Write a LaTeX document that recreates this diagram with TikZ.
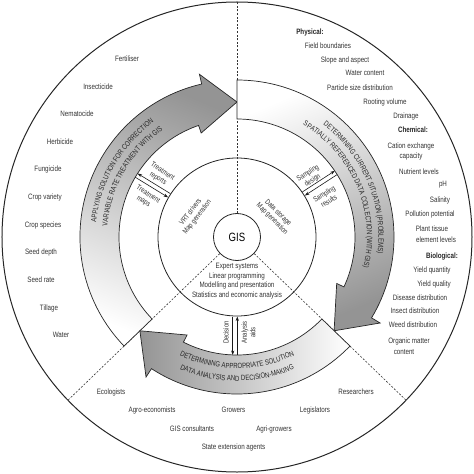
\documentclass[tikz,border=0pt]{standalone}
\usepackage{fontspec}
\setmainfont[FakeStretch=0.8]{Liberation Sans}
\usetikzlibrary{arrows.meta,decorations.text}

\newcommand{\bandfont}{\fontsize{7.5}{9}\selectfont}

\tikzset{
  ring/.style={draw=black!85, line width=0.8pt},
  sector/.style={draw=black!80, line width=0.6pt, dash pattern=on 2pt off 1.6pt},
  band/.style={draw=black!85, line width=0.7pt},
  flow/.style={draw=black!90, line width=0.6pt, -{Stealth[length=4.5pt,width=3.2pt]}},
  listitem/.style={font=\fontsize{7.8}{9}\selectfont, text=black!80, inner sep=0pt},
  listhead/.style={font=\fontsize{7.8}{9}\selectfont\bfseries, text=black!85, inner sep=0pt},
  smalllab/.style={font=\fontsize{7.4}{8.4}\selectfont, text=black!80, align=center, inner sep=0pt},
  bandtext/.style={decorate, decoration={text along path, text align=center, text color=black!85}},
}

\begin{document}
\begin{tikzpicture}[x=1pt, y=1pt]
\useasboundingbox (-237,-237) rectangle (237,237);

% circles
\draw[ring, line width=1pt] (0,0) circle[radius=235];
\draw[ring] (0,0) circle[radius=79];
\node[circle, draw=black!85, line width=0.8pt, minimum size=47pt, inner sep=0pt,
      font=\fontsize{12}{14}\selectfont] (gis) at (0,0) {GIS};

% sector borders
\coordinate (rimN) at (90:235);
\coordinate (rimSW) at (224:235);
\coordinate (rimSE) at (316:235);
\draw[sector] (gis.90) -- (rimN);
\draw[sector] (gis.224) -- (rimSW);
\draw[sector] (gis.316) -- (rimSE);

% applying solution (left arrow)
\shade[band, top color=black!42, bottom color=white, shading angle=-23]
  (224:118) arc[start angle=224, end angle=109, radius=118] -- (109:110) -- (90:135)
  -- (103:167) -- (103:157) arc[start angle=103, end angle=224, radius=157] -- cycle;
\path[bandtext, decoration={text={|\bandfont|APPLYING SOLUTION FOR CORRECTION}}]
  (190:141.5) arc[start angle=190, end angle=110, radius=141.5];
\path[bandtext, decoration={text={|\bandfont|VARIABLE RATE TREATMENT WITH GIS}}]
  (192:130) arc[start angle=192, end angle=108, radius=130];

% determining current situation (right arrow)
\shade[band, top color=black!42, bottom color=white, shading angle=-157]
  (90:118) -- (90:157) arc[start angle=90, end angle=-31, radius=157] -- (-31:167)
  -- (-44:135) -- (-25:110) -- (-25:118) arc[start angle=-25, end angle=90, radius=118] -- cycle;
\path[bandtext, decoration={text={|\bandfont|DETERMINING CURRENT SITUATION (PROBLEMS)}}]
  (75:141.5) arc[start angle=75, end angle=-29, radius=141.5];
\path[bandtext, decoration={text={|\bandfont|SPATIALLY REFERENCED DATA COLLECTION (WITH GIS)}}]
  (83:130) arc[start angle=83, end angle=-37, radius=130];

% determining appropriate solution (bottom arrow)
\shade[band, top color=black!42, bottom color=white, shading angle=90]
  (316:118) -- (316:157) arc[start angle=316, end angle=237, radius=157] -- (237:167)
  -- (224:135) -- (243:110) -- (243:118) arc[start angle=243, end angle=316, radius=118] -- cycle;
\path[bandtext, decoration={text={|\bandfont|DETERMINING APPROPRIATE SOLUTION}}]
  (230:131.5) arc[start angle=230, end angle=310, radius=131.5];
\path[bandtext, decoration={text={|\bandfont|DATA ANALYSIS AND DECISION-MAKING}}]
  (232:144) arc[start angle=232, end angle=308, radius=144];

% exchange arrows
\coordinate (repIn) at ([shift={(58.5:2.2)}]148.5:79.5);
\coordinate (repOut) at ([shift={(58.5:2.2)}]148.5:118);
\coordinate (mapIn) at ([shift={(238.5:2.2)}]148.5:79.5);
\coordinate (mapOut) at ([shift={(238.5:2.2)}]148.5:118);
\draw[flow] (repIn) -- (repOut);
\draw[flow] (mapOut) -- (mapIn);
\coordinate (desIn) at ([shift={(123:2.2)}]33:79.5);
\coordinate (desOut) at ([shift={(123:2.2)}]33:118);
\coordinate (resIn) at ([shift={(-57:2.2)}]33:79.5);
\coordinate (resOut) at ([shift={(-57:2.2)}]33:118);
\draw[flow] (desIn) -- (desOut);
\draw[flow] (resOut) -- (resIn);
\coordinate (decIn) at (-4.3,-79.5);
\coordinate (decOut) at (-4.3,-118);
\coordinate (aidIn) at (0.3,-79.5);
\coordinate (aidOut) at (0.3,-118);
\draw[flow] (decIn) -- (decOut);
\draw[flow] (aidOut) -- (aidIn);

% labels of the exchange arrows
\node[smalllab, rotate=-33] (treatRep) at (-76.7,61.7) {Treatment\\reports};
\node[smalllab, rotate=-33] (treatMap) at (-91.3,39) {Treatment\\maps};
\node[smalllab, rotate=33] (sampDes) at (73.3,60) {Sampling\\design};
\node[smalllab, rotate=33] (sampRes) at (89.5,39.5) {Sampling\\results};
\node[smalllab, rotate=90] (decision) at (-11,-95.5) {Decision};
\node[smalllab, rotate=90] (analysis) at (11.5,-95.5) {Analysis\\aids};

% inside the GIS ring
\node[smalllab, rotate=52] (vrt) at (-43,22.3) {VRT drivers\\Map generation};
\node[smalllab, rotate=-45] (store) at (38,21) {Data storage\\Map generation};
\node[listitem, align=center, font=\fontsize{7.8}{9.5}\selectfont] (tools) at (0,-44)
  {Expert systems\\Linear programming\\Modelling and presentation\\Statistics and economic analysis};

% treatments (left)
\node[listitem] (fert) at (-110,178) {Fertiliser};
\node[listitem] (insect) at (-139,150) {Insecticide};
\node[listitem] (nema) at (-160,123) {Nematocide};
\node[listitem] (herb) at (-177,95) {Herbicide};
\node[listitem] (fung) at (-189,68) {Fungicide};
\node[listitem] (cvar) at (-192,40) {Crop variety};
\node[listitem] (cspec) at (-194,12) {Crop species};
\node[listitem] (sdepth) at (-196,-15) {Seed depth};
\node[listitem] (srate) at (-196,-43) {Seed rate};
\node[listitem] (till) at (-188,-71) {Tillage};
\node[listitem] (water) at (-176,-98) {Water};

% field data (right)
\node[listhead] (phys) at (73,205) {Physical:};
\node[listitem] (bound) at (91,191) {Field boundaries};
\node[listitem] (slope) at (108,177) {Slope and aspect};
\node[listitem] (wcont) at (128,164) {Water content};
\node[listitem] (psize) at (123,149) {Particle size distribution};
\node[listitem] (root) at (148,135) {Rooting volume};
\node[listitem] (drain) at (169,121) {Drainage};
\node[listhead] (chem) at (176,107) {Chemical:};
\node[listitem] (cation) at (174,91) {Cation exchange};
\node[listitem] (capac) at (174,81) {capacity};
\node[listitem] (nutr) at (182,65) {Nutrient levels};
\node[listitem] (ph) at (206,52) {pH};
\node[listitem] (salin) at (203,37) {Salinity};
\node[listitem] (pollut) at (193,23) {Pollution potential};
\node[listitem] (tissue) at (195,8) {Plant tissue};
\node[listitem] (elem) at (199,-3) {element levels};
\node[listhead] (bio) at (205,-19) {Biological:};
\node[listitem] (yquan) at (195,-33) {Yield quantity};
\node[listitem] (yqual) at (197,-47) {Yield quality};
\node[listitem] (disease) at (183,-61) {Disease distribution};
\node[listitem] (insdist) at (178,-74) {Insect distribution};
\node[listitem] (weed) at (176,-88) {Weed distribution};
\node[listitem] (organic) at (172,-104) {Organic matter};
\node[listitem] (content) at (167,-115) {content};

% people (bottom)
\node[listitem] (ecol) at (-126,-155) {Ecologists};
\node[listitem] (agroec) at (-85,-173) {Agro-economists};
\node[listitem] (giscons) at (-45,-192) {GIS consultants};
\node[listitem] (state) at (-3.5,-210) {State extension agents};
\node[listitem] (grow) at (-3.5,-173) {Growers};
\node[listitem] (agrigr) at (37,-192) {Agri-growers};
\node[listitem] (legis) at (78,-173) {Legislators};
\node[listitem] (resear) at (119,-155) {Researchers};
\end{tikzpicture}
\end{document}
